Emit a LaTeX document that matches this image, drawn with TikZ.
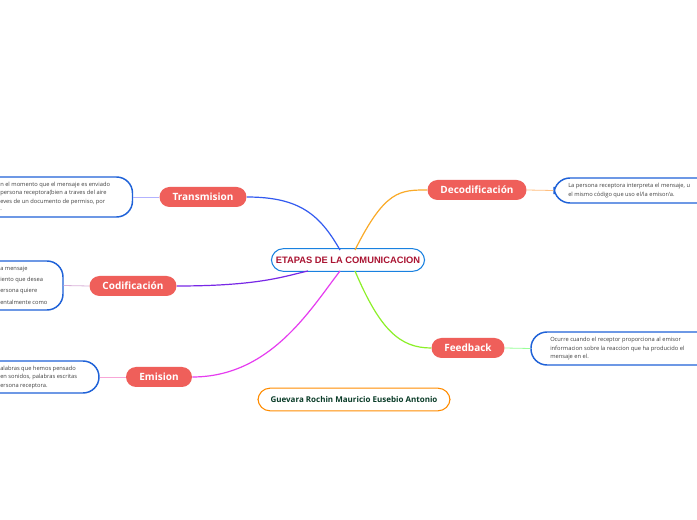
\documentclass[tikz,border=0pt]{standalone}
\usepackage{fontspec}
\setmainfont{Open Sans}
\newfontfamily\titlefont{Liberation Sans}
\begin{document}
\begin{tikzpicture}[x=0.75pt,y=-0.75pt,
 pill/.style={fill=pillred,rounded corners=7.5pt,minimum width=#1*0.75pt,minimum height=15pt,text=white,font=\bfseries\fontsize{7.5}{9}\selectfont,inner sep=0pt},
 tbox/.style={draw=boxblue,line width=1.1pt,rounded corners=12pt,fill=white},
 tline/.style={anchor=west,font=\fontsize{4.3}{5}\selectfont,text=black!75,inner sep=0pt},
 con/.style={line width=0.9pt}]
\definecolor{pillred}{HTML}{EF5F5A}
\definecolor{boxblue}{HTML}{1F62D8}
\useasboundingbox (0,0) rectangle (697,520);
\clip (0,0) rectangle (697,520);
\fill[white] (0,0) rectangle (697,520);
% center
\node[draw=boxblue!80!cyan,line width=0.8pt,rounded corners=9pt,minimum width=104.25pt,minimum height=17pt,fill=white,text={rgb,255:red,170;green,20;blue,50},font=\titlefont\bfseries\fontsize{7}{8}\selectfont] (c) at (348,260) {ETAPAS DE LA COMUNICACION};
% pills
\node[pill=87] (t) at (203,197) {Transmision};
\node[pill=87] (k) at (133,286) {Codificación};
\node[pill=66] (e) at (159,377) {Emision};
\node[pill=99] (d) at (477,190) {Decodificación};
\node[pill=73] (f) at (468,348) {Feedback};
% text boxes
\node[tbox,minimum width=114.75pt,minimum height=30pt] (tb) at (56,197) {};
\node[tbox,minimum width=62.25pt,minimum height=36.75pt] (kb) at (21.5,285.5) {};
\node[tbox,minimum width=89.25pt,minimum height=24pt] (eb) at (39.5,377) {};
\node[tbox,minimum width=124.5pt,minimum height=18.75pt] (db) at (637,190.5) {};
\node[tbox,minimum width=141.75pt,minimum height=24.75pt] (fb) at (625.5,348.5) {};
% texts
\node[tline] (t1) at (0,185) {n el momento que el mensaje es enviado};
\node[tline] (t2) at (0,193.5) {persona receptora(bien a traves del aire};
\node[tline] (t3) at (0,202) {eves de un documento de permiso, por};
\node[tline] (t4) at (0,210.5) {.};
\node[tline] (k1) at (0,269) {a mensaje};
\node[tline] (k2) at (0,280) {iento que desea};
\node[tline] (k3) at (0,291) {ersona quiere};
\node[tline] (k4) at (0,302) {entalmente como};
\node[tline] (e1) at (0,369) {alabras que hemos pensado};
\node[tline] (e2) at (0,377.5) {en sonidos, palabras escritas};
\node[tline] (e3) at (0,386) {ersona receptora.};
\node[tline] (d1) at (568,186) {La persona receptora interpreta el mensaje, u};
\node[tline] (d2) at (568,195) {el mismo código que uso el/la emisor/a.};
\node[tline] (f1) at (550,340) {Ocurre cuando el receptor proporciona al emisor};
\node[tline] (f2) at (550,348.5) {informacion sobre la reaccion que ha producido el};
\node[tline] (f3) at (550,357) {mensaje en el.};
% author
\node[draw=orange!90!yellow,line width=0.8pt,rounded corners=9pt,minimum width=144pt,minimum height=17pt,fill=white,text={rgb,255:red,10;green,60;blue,40},font=\bfseries\fontsize{6}{7}\selectfont] (a) at (354,399.5) {Guevara Rochin Mauricio Eusebio Antonio};
% connectors
\coordinate (ct) at (340,250); \coordinate (cd) at (355,250);
\coordinate (ck) at (308,271); \coordinate (ce) at (340,271); \coordinate (cf) at (355,271);
\begin{scope}[on background layer/.style={}]
\end{scope}
\draw[con,draw={rgb,255:red,50;green,90;blue,240}] (t.east) .. controls (300,197) and (320,215) .. (ct);
\draw[con,draw={rgb,255:red,250;green,170;blue,40}] (cd) .. controls (385,190) and (400,190) .. (d.west);
\draw[con,draw={rgb,255:red,120;green,40;blue,230}] (k.east) .. controls (260,286) and (285,276) .. (ck);
\draw[con,draw={rgb,255:red,230;green,60;blue,240}] (e.east) .. controls (270,377) and (310,310) .. (ce);
\draw[con,draw={rgb,255:red,140;green,240;blue,40}] (cf) .. controls (380,330) and (400,348) .. (f.west);
\draw[line width=0.6pt,draw=blue!30] (t.west) -- (tb.east);
\draw[line width=0.6pt,draw=violet!30] (k.west) -- (kb.east);
\draw[line width=0.6pt,draw=magenta!35] (e.west) -- (eb.east);
\draw[line width=0.6pt,draw=orange!50] (d.east) -- (db.west);
\draw[line width=0.6pt,draw=green!40] (f.east) -- (fb.west);
\end{tikzpicture}
\end{document}
